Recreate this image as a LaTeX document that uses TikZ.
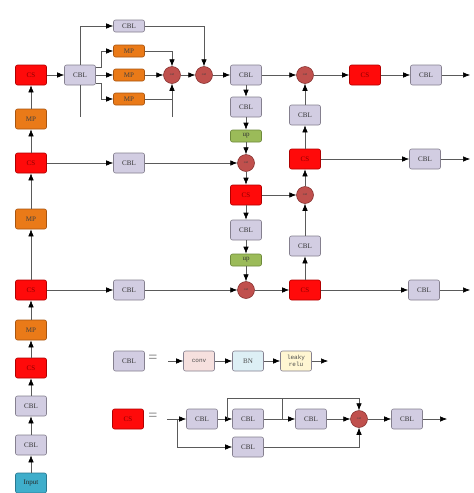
\documentclass[tikz,border=0pt]{standalone}
\usepackage{fontspec}
\setmainfont{Liberation Serif}
\setmonofont{Liberation Mono}
\usetikzlibrary{arrows.meta}
\definecolor{csred}{HTML}{FF0A0A}
\definecolor{csdraw}{HTML}{B00000}
\definecolor{cstext}{HTML}{8A0000}
\definecolor{cblfill}{HTML}{D2CDE2}
\definecolor{cbldraw}{HTML}{85808F}
\definecolor{mpfill}{HTML}{EA7A18}
\definecolor{mpdraw}{HTML}{A85510}
\definecolor{upfill}{HTML}{9BBB59}
\definecolor{updraw}{HTML}{6E8A3C}
\definecolor{catfill}{HTML}{C0504D}
\definecolor{catdraw}{HTML}{7F2A28}
\definecolor{inpfill}{HTML}{3FAECB}
\definecolor{inpdraw}{HTML}{2A7890}
\definecolor{convfill}{HTML}{F6E0DE}
\definecolor{bnfill}{HTML}{DDEFF5}
\definecolor{lrfill}{HTML}{FFF6D2}
\definecolor{linegray}{HTML}{5A5A5A}
\tikzset{
  base/.style={rounded corners=2pt, line width=0.6pt, minimum width=31pt,
    minimum height=20pt, inner sep=0pt, font=\fontsize{7}{8}\selectfont},
  cbl/.style={base, fill=cblfill, draw=cbldraw, text=black!80},
  csbox/.style={base, fill=csred, draw=csdraw, text=cstext},
  mpbox/.style={base, fill=mpfill, draw=mpdraw, text=black!75},
  smallbox/.style={minimum height=12pt},
  upbox/.style={base, smallbox, fill=upfill, draw=updraw, text=black!80},
  inp/.style={base, fill=inpfill, draw=inpdraw, text=black!85},
  lconv/.style={base, fill=convfill, draw=cbldraw, text=black!70, font=\ttfamily\fontsize{6}{6.5}\selectfont},
  lbn/.style={base, fill=bnfill, draw=cbldraw, text=black!70},
  lrelu/.style={base, fill=lrfill, draw=cbldraw, text=black!70, align=center, font=\ttfamily\fontsize{6}{7}\selectfont},
  catnode/.style={circle, minimum size=17pt, inner sep=0pt, fill=catfill,
    draw=catdraw, line width=0.5pt, text=black!75, font=\fontsize{3.5}{4}\selectfont},
  eqsign/.style={inner sep=0pt, text=black!55, font=\fontsize{16}{16}\selectfont},
  arr/.style={-{Latex[length=7pt,width=5.5pt,color=black]}, line width=0.6pt, draw=linegray},
  ln/.style={line width=0.6pt, draw=linegray},
}
\begin{document}
\begin{tikzpicture}[x=1pt,y=-1pt]
\fill[white] (0,0) rectangle (474,493);
\useasboundingbox (0,0) rectangle (474,493);
% left column
\node[inp] (in) at (31,483) {Input};
\node[cbl] (l1) at (31,445) {CBL};
\node[cbl] (l2) at (31,406) {CBL};
\node[csbox] (cs1) at (31,368) {CS};
\node[mpbox] (mp1) at (31,330) {MP};
\node[csbox] (cs2) at (31,290) {CS};
\node[mpbox] (mp2) at (31,219) {MP};
\node[csbox] (cs3) at (31,163) {CS};
\node[mpbox] (mp3) at (31,119) {MP};
\node[csbox] (cs4) at (31,75) {CS};
% top block
\node[cbl] (t0) at (80,75) {CBL};
\node[cbl,smallbox] (tc) at (129,26) {CBL};
\node[mpbox,smallbox] (m1) at (129,51) {MP};
\node[mpbox,smallbox] (m2) at (129,75) {MP};
\node[mpbox,smallbox] (m3) at (129,99) {MP};
\node[catnode] (c1) at (172,75) {cat};
\node[catnode] (c2) at (204,75) {cat};
\node[cbl] (a1) at (246,75) {CBL};
\node[catnode] (c3) at (305,75) {cat};
\node[csbox] (a2) at (365,75) {CS};
\node[cbl] (a3) at (426,75) {CBL};
\coordinate (o1) at (470,75);
\coordinate (d1) at (80,117);
\coordinate (d2) at (172,117);
% middle column
\node[cbl] (b1) at (246,107) {CBL};
\node[upbox] (u1) at (246,136) {up};
\node[catnode] (c4) at (246,163) {cat};
\node[csbox] (b2) at (246,195) {CS};
\node[cbl] (b3) at (246,230) {CBL};
\node[upbox] (u2) at (246,260) {up};
\node[catnode] (c5) at (246,290) {cat};
\node[cbl] (mcb1) at (129,163) {CBL};
\node[cbl] (mcb2) at (129,290) {CBL};
% right column
\node[csbox] (r1) at (305,290) {CS};
\node[cbl] (r2) at (305,246) {CBL};
\node[catnode] (c6) at (305,195) {cat};
\node[csbox] (r3) at (305,159) {CS};
\node[cbl] (r4) at (305,115) {CBL};
\node[cbl] (e1) at (425,159) {CBL};
\node[cbl] (e2) at (424,290) {CBL};
\coordinate (o2) at (470,159);
\coordinate (o3) at (470,290);
% connectors left column
\draw[arr] (in) -- (l1);
\draw[arr] (l1) -- (l2);
\draw[arr] (l2) -- (cs1);
\draw[arr] (cs1) -- (mp1);
\draw[arr] (mp1) -- (cs2);
\draw[arr] (cs2) -- (mp2);
\draw[arr] (mp2) -- (cs3);
\draw[arr] (cs3) -- (mp3);
\draw[arr] (mp3) -- (cs4);
\draw[arr] (cs4) -- (t0);
% top block connectors
\draw[arr] (t0.north) |- (tc.west);
\draw[ln] (t0.south) -- (d1);
\draw[arr] (t0.east) -- (m2.west);
\draw[arr] ([yshift=8pt]t0.east) -- ++(5,0) |- (m1.west);
\draw[arr] ([yshift=-8pt]t0.east) -- ++(5,0) |- (m3.west);
\draw[arr] (m1.east) -| (c1.north);
\draw[ln] (m3.east) -- (c1.south |- m3.east);
\draw[arr] (d2) -- (c1.south);
\draw[arr] (m2) -- (c1);
\draw[arr] (tc.east) -| (c2.north);
\draw[arr] (c1) -- (c2);
\draw[arr] (c2) -- (a1);
\draw[arr] (a1) -- (c3);
\draw[arr] (c3) -- (a2);
\draw[arr] (a2) -- (a3);
\draw[arr] (a3) -- (o1);
% middle column connectors
\draw[arr] (a1) -- (b1);
\draw[arr] (b1) -- (u1);
\draw[arr] (u1) -- (c4);
\draw[arr] (c4) -- (b2);
\draw[arr] (b2) -- (b3);
\draw[arr] (b3) -- (u2);
\draw[arr] (u2) -- (c5);
\draw[arr] (cs3) -- (mcb1);
\draw[arr] (mcb1) -- (c4);
\draw[arr] (cs2) -- (mcb2);
\draw[arr] (mcb2) -- (c5);
% right column connectors
\draw[arr] (c5) -- (r1);
\draw[arr] (r1) -- (e2);
\draw[arr] (e2) -- (o3);
\draw[arr] (r1) -- (r2);
\draw[arr] (r2) -- (c6);
\draw[arr] (b2) -- (c6);
\draw[arr] (c6) -- (r3);
\draw[arr] (r3) -- (e1);
\draw[arr] (e1) -- (o2);
\draw[arr] (r3) -- (r4);
\draw[arr] (r4) -- (c3);
% legend CBL
\node[cbl] (lg1) at (129,361) {CBL};
\node[eqsign] (eq1) at (153,359) {=};
\coordinate (lgs) at (168,361);
\node[lconv] (lc) at (199,361) {conv};
\node[lbn] (lb) at (248,361) {BN};
\node[lrelu] (ll) at (296,361) {leaky\\relu};
\coordinate (lge) at (328,361);
\draw[arr] (lgs) -- (lc);
\draw[arr] (lc) -- (lb);
\draw[arr] (lb) -- (ll);
\draw[arr] (ll) -- (lge);
% legend CS
\node[csbox] (lg2) at (128,419) {CS};
\node[eqsign] (eq2) at (153,417) {=};
\coordinate (s0) at (167,419);
\coordinate (s1) at (177,419);
\node[cbl] (k1) at (202,419) {CBL};
\node[cbl] (k2) at (248,419) {CBL};
\node[cbl] (k3) at (311,419) {CBL};
\node[catnode] (kc) at (359,419) {cat};
\node[cbl] (k4) at (407,419) {CBL};
\node[cbl] (k5) at (248,447) {CBL};
\coordinate (s2) at (447,419);
\coordinate (j1) at (227,419);
\coordinate (j2) at (282,419);
\coordinate (j2t) at (282,398);
\draw[ln] (s0) -- (s1);
\draw[arr] (s1) -- (k1);
\draw[arr] (s1) |- (k5);
\draw[arr] (k1) -- (k2);
\draw[arr] (k2) -- (k3);
\draw[arr] (k3) -- (kc);
\draw[arr] (kc) -- (k4);
\draw[arr] (k4) -- (s2);
\draw[arr] (k5) -| (kc.south);
\draw[arr] (j1) -- ++(0,-21) -| (kc.north);
\draw[ln] (j2) -- (j2t);
\end{tikzpicture}
\end{document}
